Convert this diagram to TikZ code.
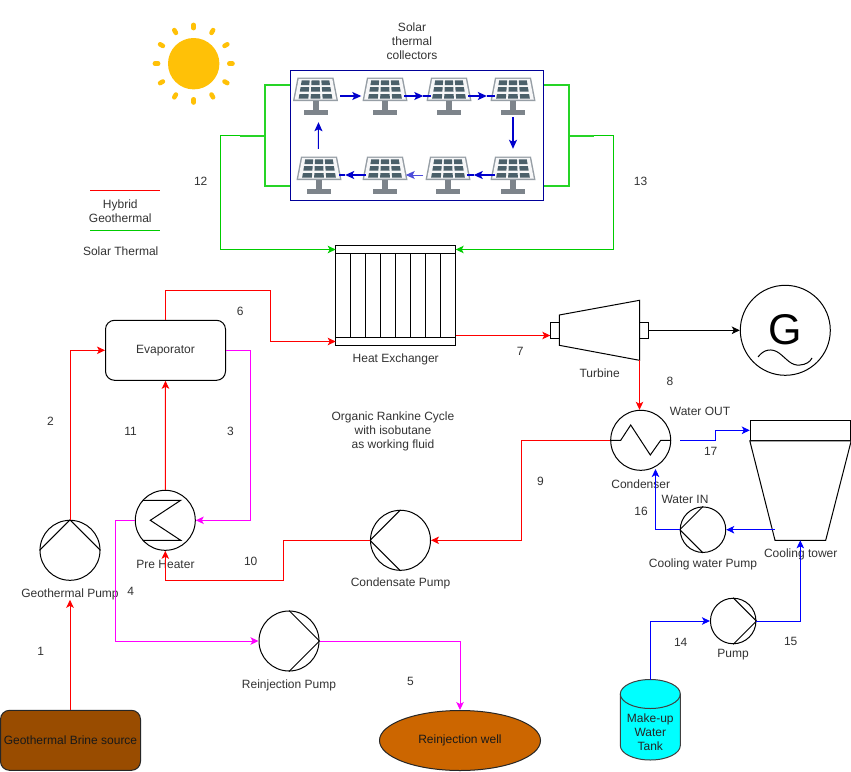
\documentclass[tikz,border=0pt]{standalone}
\usepackage{fontspec}
\setmainfont{Liberation Sans}
\usetikzlibrary{arrows.meta,calc,shapes.geometric}
\definecolor{flowred}{RGB}{255,0,0}
\definecolor{flowmag}{RGB}{255,0,255}
\definecolor{flowgrn}{RGB}{0,204,0}
\definecolor{flowblu}{RGB}{0,0,255}
\definecolor{panelblu}{RGB}{0,0,204}
\definecolor{boxblu}{RGB}{0,0,153}
\definecolor{sun}{RGB}{255,193,7}
\definecolor{pgray}{RGB}{125,132,139}
\definecolor{pdark}{RGB}{75,96,106}
\definecolor{pframe}{RGB}{150,158,165}
\definecolor{brine}{RGB}{153,76,0}
\definecolor{wellc}{RGB}{204,102,0}
\definecolor{tankc}{RGB}{0,255,255}
\tikzset{
  every node/.style={font=\fontsize{12}{14}\selectfont,text=black!80,inner sep=0pt,align=center},
  tip/.style={-{Stealth[length=8pt,width=7.5pt,inset=2pt]}},
  flow/.style={tip,line width=1pt,line join=miter},
  red flow/.style={flow,draw=flowred},
  mag flow/.style={flow,draw=flowmag},
  grn flow/.style={flow,draw=flowgrn},
  blu flow/.style={flow,draw=flowblu},
  sym/.style={draw=black,line width=1pt,fill=white},
  circ/.style={sym,circle,minimum size=60pt},
  smallcirc/.style={sym,circle,minimum size=45.5pt},
  inner line/.style={draw=black,line width=1pt},
  panelspot/.style={minimum width=45pt,minimum height=37pt},
  pan/.style={draw=panelblu,line width=1.2pt,-{Stealth[length=9pt,width=8pt,inset=2pt]}},
  panline/.style={draw=panelblu,line width=1.2pt},
  bus/.style={draw=flowgrn!85!white,line width=2pt}
}
\newcommand{\panelcell}[3]{% column, top y, bottom y
  \fill[pdark]
    ({(#1*2/3-0.27)*(15.1+0.18*(#2+13))},#2) --
    ({(#1*2/3+0.27)*(15.1+0.18*(#2+13))},#2) --
    ({(#1*2/3+0.27)*(15.1+0.18*(#3+13))},#3) --
    ({(#1*2/3-0.27)*(15.1+0.18*(#3+13))},#3) -- cycle;}
\newcommand{\solarpanel}[2]{%
  \begin{scope}[shift={(#1,#2)}]
    \fill[pframe] (-18,-18) -- (18,-18) -- (22.5,5.5) -- (-22.5,5.5) -- cycle;
    \fill[white!92!pframe] (-16.8,-16.6) -- (16.8,-16.6) -- (20.8,4) -- (-20.8,4) -- cycle;
    \foreach \c in {-1,0,1}{
      \panelcell{\c}{-15.2}{-10.5}
      \panelcell{\c}{-8.5}{-3.8}
      \panelcell{\c}{-1.5}{3.2}
    }
    \fill[pgray] (-3,5.5) rectangle (3,14.5);
    \fill[pgray] (-12,14.5) rectangle (12,19);
  \end{scope}}
\begin{document}
\begin{tikzpicture}[x=1pt,y=-1pt]
\useasboundingbox (0,0) rectangle (851,771);
\fill[white] (0,0) rectangle (851,771);

% sun
\fill[sun] (193.7,63.7) circle (25.7);
\foreach \a in {0,30,...,330}{
  \draw[sun,line width=4.6pt,line cap=round] ($(193.7,63.7)+(\a:35.6)$) -- ($(193.7,63.7)+(\a:38.8)$);
}

% collectors box
\node[draw=boxblu,line width=1pt,minimum width=253pt,minimum height=130pt,fill=white] (box) at (417,135.5) {};
\coordinate (bl) at (240,135.5);
\coordinate (br) at (594,135.5);

% heat exchanger
\node[sym,minimum width=120pt,minimum height=100pt] (hx) at (395.7,295.3) {};
\draw[inner line] (335.7,253.5) -- (455.7,253.5) (335.7,337.2) -- (455.7,337.2);
\foreach \x in {350.7,365.7,380.7,395.7,410.7,425.7,440.7}{\draw[inner line] (\x,253.5) -- (\x,337.2);}
\coordinate (hxTL) at (335.7,249.5);
\coordinate (hxTR) at (455.7,249.5);
\coordinate (hxIn) at (335.7,341.5);
\coordinate (hxOut) at (455.7,335.5);

% green buses
\draw[bus] (box.west |- 0,85) -- (265,85) -- (265,185.5) -- (box.west |- 0,185.5);
\draw[bus] (box.east |- 0,85) -- (569,85) -- (569,185.5) -- (box.east |- 0,185.5);
\draw[bus] (bl) -- (265,135.5);
\draw[bus] (569,135.5) -- (br);
\draw[grn flow] (bl) -- (220.5,135.5) -- (220.5,249.5) -- (hxTL);
\draw[grn flow] (br) -- (613.5,135.5) -- (613.5,249.5) -- (hxTR);

% panels
\foreach \n/\x/\y in {p1/315.5/95.5, p2/385/95.5, p3/449/95.5, p4/513/95.5, p5/513/174.5, p6/448/174.5, p7/385/174.5, p8/319/174.5}{
  \solarpanel{\x}{\y}
  \node[panelspot] (\n) at (\x,\y) {};
}
\draw[pan] ([xshift=2pt,yshift=-0.5pt]p1.east) -- ([xshift=-1pt,yshift=-0.5pt]p2.west);
\draw[pan] ([xshift=-3.5pt,yshift=-0.5pt]p2.east) -- ([xshift=-3pt,yshift=-0.5pt]p3.west);
\draw[panline] ([xshift=-3pt,yshift=-0.5pt]p3.west) -- ([xshift=5pt,yshift=-0.5pt]p3.west);
\draw[pan] ([xshift=-3.5pt,yshift=-0.5pt]p3.east) -- ([xshift=-3.5pt,yshift=-0.5pt]p4.west);
\draw[panline] ([xshift=-3.5pt,yshift=-0.5pt]p4.west) -- ([xshift=5pt,yshift=-0.5pt]p4.west);
\draw[pan] ([yshift=-3pt]p4.south) -- ([yshift=7pt]p5.north);
\draw[pan] ([xshift=4.5pt,yshift=-0.5pt]p5.west) -- ([xshift=3pt,yshift=-0.5pt]p6.east);
\draw[panline] ([xshift=3pt,yshift=-0.5pt]p6.east) -- ([xshift=-4pt,yshift=-0.5pt]p6.east);
\draw[pan,draw=panelblu!70!white,line width=1pt] ([xshift=-2pt,yshift=-0.5pt]p6.west) -- ([xshift=-2pt,yshift=-0.5pt]p7.east);
\draw[pan] ([xshift=3.5pt,yshift=-0.5pt]p7.west) -- ([xshift=3.5pt,yshift=-0.5pt]p8.east);
\draw[panline] ([xshift=3.5pt,yshift=-0.5pt]p8.east) -- ([xshift=-3pt,yshift=-0.5pt]p8.east);
\draw[pan,line width=1pt] ([xshift=-0.7pt,yshift=7pt]p8.north) -- ([xshift=3pt,yshift=-8pt]p1.south);

\node (tc) at (412,41) {Solar\\thermal\\collectors};
\node (legh) at (120.3,211) {Hybrid\\Geothermal};
\node (legs) at (120.7,251) {Solar Thermal};
\coordinate (lr1) at (90.3,190.5);
\coordinate (lr2) at (160.3,190.5);
\coordinate (lg1) at (90.3,230.5);
\coordinate (lg2) at (160.3,230.5);
\draw[flowred,line width=1pt] (lr1) -- (lr2);
\draw[flowgrn,line width=1pt] (lg1) -- (lg2);

% evaporator
\node[sym,rounded corners=9pt,minimum width=120pt,minimum height=60pt] (evap) at (165.5,350.3) {Evaporator};

% turbine
\node[sym,minimum width=9pt,minimum height=16pt] (tin) at (554.8,330.3) {};
\node[sym,minimum width=9pt,minimum height=16pt] (tout) at (644,330.3) {};
\draw[sym] (559.3,315) -- (639.5,300.3) -- (639.5,360.3) -- (559.3,345.3) -- cycle;
\coordinate (tbot) at (639.5,360.3);
\coordinate (tinArrow) at (550.3,335.5);
\node (turb) at (599.7,373.5) {Turbine};

% generator
\node[sym,circle,minimum size=90pt] (gen) at (785.3,330.3) {};
\node[font=\fontsize{43}{45}\selectfont,text=black] (g) at (785.3,330) {G};
\draw[inner line] (758,357) .. controls (764,349) and (772,348) .. (779,353) .. controls (787,359) and (791,366) .. (800,365) .. controls (806,364.5) and (810,362) .. (812,358);

% condenser
\node[circ] (cond) at (640.7,440.3) {};
\draw[inner line] (cond.west) -- (620.7,440.3) -- (630.7,425) -- (650.3,455) -- (660.7,440.3) -- (cond.east);
\node (condt) at (640.7,484) {Condenser};

% tower
\node[sym,minimum width=100.4pt,minimum height=20pt] (twtop) at (800.5,430.3) {};
\draw[sym] (twtop.south west) -- (twtop.south east) -- (825.7,540.3) -- (775,540.3) -- cycle;
\coordinate (twbot) at (800.3,540.3);
\coordinate (twside) at (774.5,529.7);
\node (twt) at (800.7,554) {Cooling tower};

% cooling water pump
\node[smallcirc] (cwp) at (703,529.7) {};
\draw[inner line] (cwp.north) -- (cwp.west) -- (cwp.south);
\node (cwpt) at (703,564) {Cooling water Pump};

% make-up pump
\node[smallcirc] (mup) at (733.2,621) {};
\draw[inner line] (mup.north) -- (mup.east) -- (mup.south);
\node (mupt) at (733,654.5) {Pump};

% tank
\fill[tankc,draw=black!75,line width=1pt] (620.3,694) -- (620.3,745.5) arc[x radius=30,y radius=14.5,start angle=180,end angle=0] -- (680.3,694) arc[x radius=30,y radius=14.5,start angle=0,end angle=-180] -- cycle;
\draw[black!75,line width=1pt] (620.3,694) arc[x radius=30,y radius=14.5,start angle=180,end angle=0];
\coordinate (tanktop) at (650.3,679.5);
\node[text=black!85] (tankt) at (650.3,732) {Make-up\\Water\\Tank};

% pre heater
\node[circ] (pre) at (165.3,520.3) {};
\draw[inner line] (142.7,500.3) -- (180.7,500.3) -- (150.3,520.3) -- (180.7,540.3) -- (142.7,540.3);
\node (pret) at (165.5,564) {Pre Heater};

% geothermal pump
\node[circ] (gp) at (70,550.3) {};
\draw[inner line] (gp.west) -- (gp.north) -- (gp.east);
\node (gpt) at (70,594) {Geothermal Pump};

% reinjection pump
\node[circ] (rp) at (289,641) {};
\draw[inner line] (rp.north) -- (rp.east) -- (rp.south);
\node (rpt) at (289,685) {Reinjection Pump};

% condensate pump
\node[circ] (cp) at (400.5,540.3) {};
\draw[inner line] (cp.north) -- (cp.west) -- (cp.south);
\node (cpt) at (400.5,583.5) {Condensate Pump};

% source and well
\node[draw=black!85,line width=1pt,fill=brine,rounded corners=9pt,minimum width=140pt,minimum height=60pt,text=black!90] (src) at (70.5,740.3) {Geothermal Brine source};
\node[draw=black!85,line width=1pt,fill=wellc,ellipse,minimum width=161pt,minimum height=60pt,text=black!90] (well) at (460,740.5) {Reinjection well};

% flows
\draw[red flow] (src.north -| gp) -- (gpt.south);
\draw[red flow] (gp.north) -- (evap.west -| gp.north) -- (evap.west);
\draw[red flow] (pre.north) -- (evap.south);
\draw[red flow] (evap.north) -- (165.5,290.5) -- (270.5,290.5) -- (270.5,341.5) -- (hxIn);
\draw[red flow] (hxOut) -- (tinArrow);
\draw[red flow] (tbot) -- (cond.north -| tbot);
\draw[red flow] (cond.west) -- (521,440.3) -- (521,540.3) -- (cp.east);
\draw[red flow] (cp.west) -- (283.5,540.3) -- (283.5,580.3) -- (165.3,580.3) -- (pre.south);
\draw[mag flow] (evap.east) -- (250.5,350.3) -- (250.5,520.3) -- (pre.east);
\draw[mag flow] (pre.west) -- (115.5,520.3) -- (115.5,641) -- (rp.west);
\draw[mag flow] (rp.east) -- (460,641) -- (well.north);
\draw[tip,draw=black,line width=1pt] (tout.east) -- (gen.west);
\coordinate (condOut) at (680.3,440.5);
\draw[blu flow] (condOut) -- (715.5,440.5) -- (715.5,430.3) -- (twtop.west);
\draw[blu flow] (twside) -- (cwp.east);
\draw[blu flow] (cwp.west) -- (655.5,529.7) -- (655.5,469);
\draw[blu flow] (tanktop) -- (650.3,621) -- (mup.west);
\draw[blu flow] (mup.east) -- (800.3,621) -- (twbot);

% numbers and labels
\node (n1) at (40.7,651) {1};
\node (n2) at (50.5,421.5) {2};
\node (n3) at (230.5,431.5) {3};
\node (n4) at (130.7,591) {4};
\node (n5) at (410.5,681) {5};
\node (n6) at (240.3,311) {6};
\node (n7) at (520.3,351) {7};
\node (n8) at (670,381) {8};
\node (n9) at (540.5,481) {9};
\node (n10) at (250.7,561) {10};
\node (n11) at (130.5,431) {11};
\node (n12) at (200.7,181) {12};
\node (n13) at (640.5,181) {13};
\node (n14) at (680.7,642) {14};
\node (n15) at (790.7,641) {15};
\node (n16) at (641,511) {16};
\node (n17) at (710.7,451) {17};
\node (wout) at (700,411) {Water OUT};
\node (win) at (685,499.5) {Water IN};
\node (orc) at (393,431) {Organic Rankine Cycle\\with isobutane\\as working fluid};
\node (hxt) at (395.7,359) {Heat Exchanger};
\end{tikzpicture}
\end{document}
